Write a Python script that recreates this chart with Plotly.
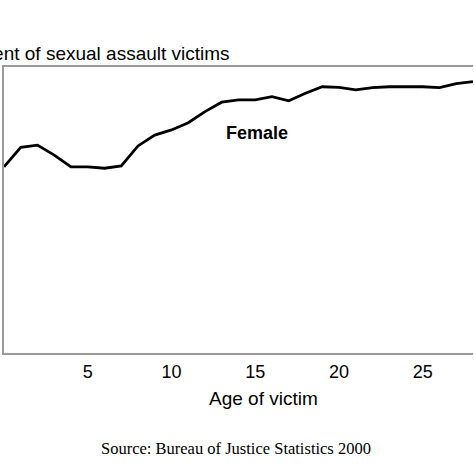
import plotly.graph_objects as go

ages = list(range(0, 29))
female_pct = [65.1, 71.9, 72.7, 69.2, 65.1, 65.1, 64.6, 65.4, 72.4, 76.2,
              78.0, 80.5, 84.4, 87.7, 88.5, 88.5, 89.6, 88.2, 90.8, 93.1,
              92.9, 92.0, 92.8, 93.1, 93.1, 93.1, 92.8, 94.2, 94.9]
x_ticks = [5, 10, 15, 20, 25]
y_title = "Percent of sexual assault victims"
x_title = "Age of victim"
series_label = "Female"
source_text = "Source: Bureau of Justice Statistics 2000"

fig = go.Figure()
fig.add_trace(go.Scatter(x=ages, y=female_pct, mode="lines",
                         line=dict(color="black", width=2.8),
                         showlegend=False, hoverinfo="skip"))

axis_grey = "#9a9a9a"
sans = "Liberation Sans, Arial, sans-serif"
fig.update_layout(
    width=474, height=474,
    margin=dict(l=4, r=1, t=67, b=121),
    paper_bgcolor="white", plot_bgcolor="white",
    font=dict(family=sans, color="black"),
    xaxis=dict(range=[0, 28], tickvals=x_ticks, showgrid=False, zeroline=False,
               showline=True, linecolor=axis_grey, linewidth=1.5, mirror=True,
               ticks="", tickfont=dict(size=18, family=sans),
               ticklabelstandoff=2),
    yaxis=dict(range=[0, 100], showgrid=False, zeroline=False, showticklabels=False,
               showline=True, linecolor=axis_grey, linewidth=1.5, ticks=""),
    annotations=[
        dict(text=y_title, xref="paper", yref="paper", x=0.486, y=1.0,
             xanchor="right", yanchor="middle", yshift=14, showarrow=False,
             font=dict(size=19, family=sans)),
        dict(text="<b>" + series_label + "</b>", x=15.1, y=76.9, xref="x", yref="y",
             showarrow=False, font=dict(size=18, family=sans)),
        dict(text=x_title, xref="paper", yref="paper", x=0.554, y=0, yshift=-45,
             xanchor="center", yanchor="middle", showarrow=False,
             font=dict(size=19, family=sans)),
        dict(text=source_text, xref="paper", yref="paper", x=0.495, y=0, yshift=-95,
             xanchor="center", yanchor="middle", showarrow=False,
             font=dict(size=16.5, family="Liberation Serif, Times New Roman, serif")),
    ],
)

fig.write_html("out.html", config={"displayModeBar": False},
               post_script="document.body.style.margin='0';")
